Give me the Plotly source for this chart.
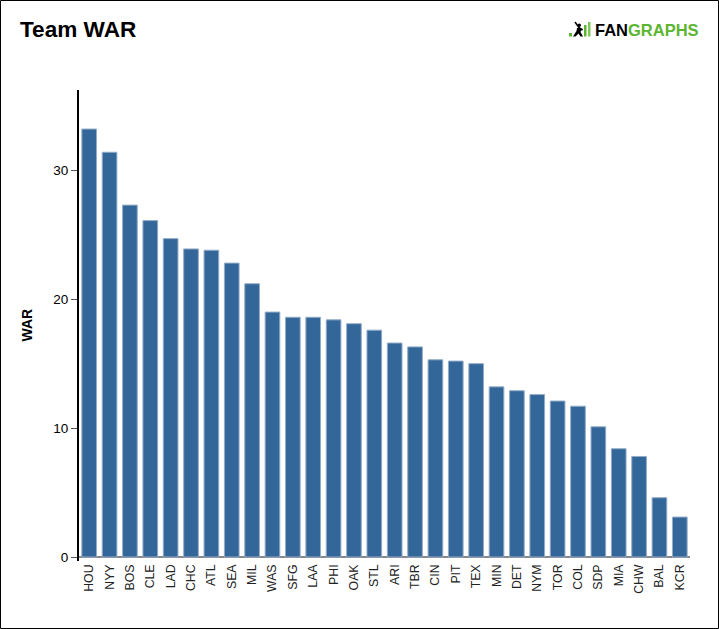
import plotly.graph_objects as go

teams = ["HOU", "NYY", "BOS", "CLE", "LAD", "CHC", "ATL", "SEA", "MIL", "WAS",
         "SFG", "LAA", "PHI", "OAK", "STL", "ARI", "TBR", "CIN", "PIT", "TEX",
         "MIN", "DET", "NYM", "TOR", "COL", "SDP", "MIA", "CHW", "BAL", "KCR"]
war = [33.2, 31.4, 27.3, 26.1, 24.7, 23.9, 23.8, 22.8, 21.2, 19.0,
       18.6, 18.6, 18.4, 18.1, 17.6, 16.6, 16.3, 15.3, 15.2, 15.0,
       13.2, 12.9, 12.6, 12.1, 11.7, 10.1, 8.4, 7.8, 4.6, 3.1]
y_ticks = [0, 10, 20, 30]

W, H = 719, 629
L, R, T, B = 79, 29, 90, 68
PW, PH = W - L - R, H - T - B


def px(x):
    return (x - L) / PW


def py(y):
    return (H - B - y) / PH


fig = go.Figure()
fig.add_trace(go.Bar(
    x=teams, y=war,
    marker=dict(color="#346799", line=dict(color="#93acc9", width=1)),
    hoverinfo="x+y",
))

shapes = [
    # outer frame
    dict(type="rect", xref="paper", yref="paper",
         x0=px(0.5), x1=px(718.5), y0=py(628.5), y1=py(0.5),
         line=dict(color="black", width=1), fillcolor="rgba(0,0,0,0)"),
    # logo: green dot
    dict(type="rect", xref="paper", yref="paper",
         x0=px(569), x1=px(572), y0=py(36.5), y1=py(33),
         line=dict(width=0), fillcolor="#5cb531"),
    # logo: green bars
    dict(type="rect", xref="paper", yref="paper",
         x0=px(584), x1=px(586.5), y0=py(36.5), y1=py(25),
         line=dict(width=0), fillcolor="#5cb531"),
    dict(type="rect", xref="paper", yref="paper",
         x0=px(588), x1=px(590.5), y0=py(36.5), y1=py(22),
         line=dict(width=0), fillcolor="#7cc65a"),
    # logo: batter head
    dict(type="circle", xref="paper", yref="paper",
         x0=px(577.5), x1=px(581), y0=py(27), y1=py(23.5),
         line=dict(width=0), fillcolor="black"),
    # logo: bat
    dict(type="line", xref="paper", yref="paper",
         x0=px(575), x1=px(580), y0=py(22), y1=py(29),
         line=dict(color="black", width=1.5)),
]
# logo: batter body
body = [(573, 36.5), (576.5, 31), (577, 28), (580, 27.5), (583, 29), (582.5, 30.5),
        (581, 30.5), (580.5, 32), (583, 36.5), (580.5, 36.5), (578.5, 33.5), (575.5, 36.5)]
path = "M " + " L ".join(f"{px(a)},{py(b)}" for a, b in body) + " Z"
shapes.append(dict(type="path", xref="paper", yref="paper", path=path,
                   line=dict(width=0), fillcolor="black"))

fig.update_layout(
    width=W, height=H,
    margin=dict(l=L, r=R, t=T, b=B),
    paper_bgcolor="white", plot_bgcolor="white",
    showlegend=False,
    bargap=0.28,
    font=dict(family="Liberation Sans, Arial, sans-serif", color="black"),
    title=dict(text="<b>Team WAR</b>", xref="container", yref="container",
               x=20 / W, xanchor="left", y=1 - 29 / H, yanchor="middle",
               font=dict(size=22.6, color="black", family="Liberation Sans, Arial, sans-serif")),
    xaxis=dict(
        showline=False, showgrid=False, zeroline=False,
        ticks="", tickangle=-90,
        tickfont=dict(size=12.3, color="#222"),
        range=[-0.5, len(teams) - 0.5],
    ),
    yaxis=dict(
        range=[-0.31, 36.23],
        tickvals=y_ticks,
        showgrid=False,
        showline=True, linecolor="black", linewidth=2,
        ticks="outside", ticklen=6, tickcolor="#555", tickwidth=1,
        tickfont=dict(size=13.5, color="black"),
        zeroline=True, zerolinecolor="#888", zerolinewidth=1.5,
    ),
    shapes=shapes,
    annotations=[
        dict(text="<b>WAR</b>", xref="paper", yref="paper",
             x=px(26), y=0.5, xanchor="center", yanchor="middle",
             textangle=-90, showarrow=False,
             font=dict(size=14, color="black")),
        dict(text="<b>FAN<span style='color:#5cb531'>GRAPHS</span></b>",
             xref="paper", yref="paper", x=px(592.5), y=py(30.5),
             xanchor="left", yanchor="middle", showarrow=False,
             font=dict(size=16.5, color="black", family="Liberation Sans, Arial, sans-serif")),
    ],
)

fig.write_html("out.html", config={"displayModeBar": False},
               post_script="document.body.style.margin='0';")
